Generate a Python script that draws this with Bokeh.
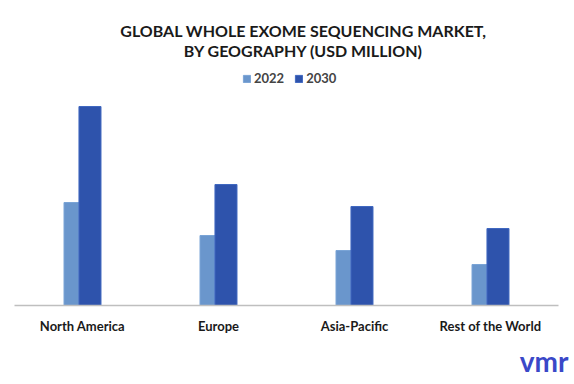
from bokeh.plotting import figure
from bokeh.models import ColumnDataSource, FactorRange, Range1d, Label, Legend, LegendItem, Title
from bokeh.transform import dodge
from bokeh.embed import file_html
from bokeh.resources import INLINE

regions = ["North America", "Europe", "Asia-Pacific", "Rest of the World"]
years = ["2022", "2030"]
values_2022 = [103, 70, 55, 41]
values_2030 = [199, 121, 99, 77]
title_lines = ["GLOBAL WHOLE EXOME SEQUENCING MARKET,", "BY GEOGRAPHY (USD MILLION)"]
color_2022 = "#6a96cc"
color_2030 = "#2e53ac"
FONT = "Lato"

src = ColumnDataSource(dict(region=regions, v2022=values_2022, v2030=values_2030))

p = figure(x_range=FactorRange(*regions), y_range=Range1d(0, 305),
           width=574, height=384, output_backend="svg", toolbar_location=None,
           min_border_left=14, min_border_right=16, min_border_top=0, min_border_bottom=79)

r1 = p.vbar(x=dodge("region", -0.081, range=p.x_range), top="v2022", width=0.11,
            source=src, fill_color=color_2022, line_color="#7aa4d6", line_width=1)
r2 = p.vbar(x=dodge("region", 0.055, range=p.x_range), top="v2030", width=0.162,
            source=src, fill_color=color_2030, line_color="#4068c0", line_width=1)

p.xgrid.visible = False
p.ygrid.visible = False
p.yaxis.visible = False
p.outline_line_color = None
p.xaxis.axis_line_color = "#bfbfbf"
p.xaxis.axis_line_width = 1.5
p.xaxis.major_tick_line_color = None
p.xaxis.minor_tick_line_color = None
p.xaxis.major_label_text_font = FONT
p.xaxis.major_label_text_font_style = "bold"
p.xaxis.major_label_text_font_size = "13px"
p.xaxis.major_label_text_color = "#1a1a1a"
p.xaxis.major_label_standoff = 6
p.background_fill_color = "white"
p.border_fill_color = "white"

for line, y in zip(title_lines, [275, 255]):
    p.add_layout(Label(x=289, y=y, x_units="screen", y_units="screen", text=line,
                       text_align="center", text_baseline="middle",
                       text_font=FONT, text_font_style="bold", text_font_size="16px",
                       text_color="#1a1a1a"))

legend = Legend(items=[LegendItem(label=years[0], renderers=[r1]),
                       LegendItem(label=years[1], renderers=[r2])],
                orientation="horizontal", location=(228, 219),
                glyph_width=9, glyph_height=9, label_text_font=FONT,
                label_text_font_style="bold", label_text_font_size="13px",
                label_standoff=3, spacing=10, padding=0, margin=0,
                border_line_color=None, background_fill_alpha=0,
                label_height=12)
p.add_layout(legend)

p.add_layout(Title(text="vmr", align="right", text_font=FONT, text_font_size="28px",
                   text_font_style="bold", text_color="#3a48c8", offset=-10, standoff=10),
             "below")

open("out.html", "w").write(file_html(p, INLINE))
